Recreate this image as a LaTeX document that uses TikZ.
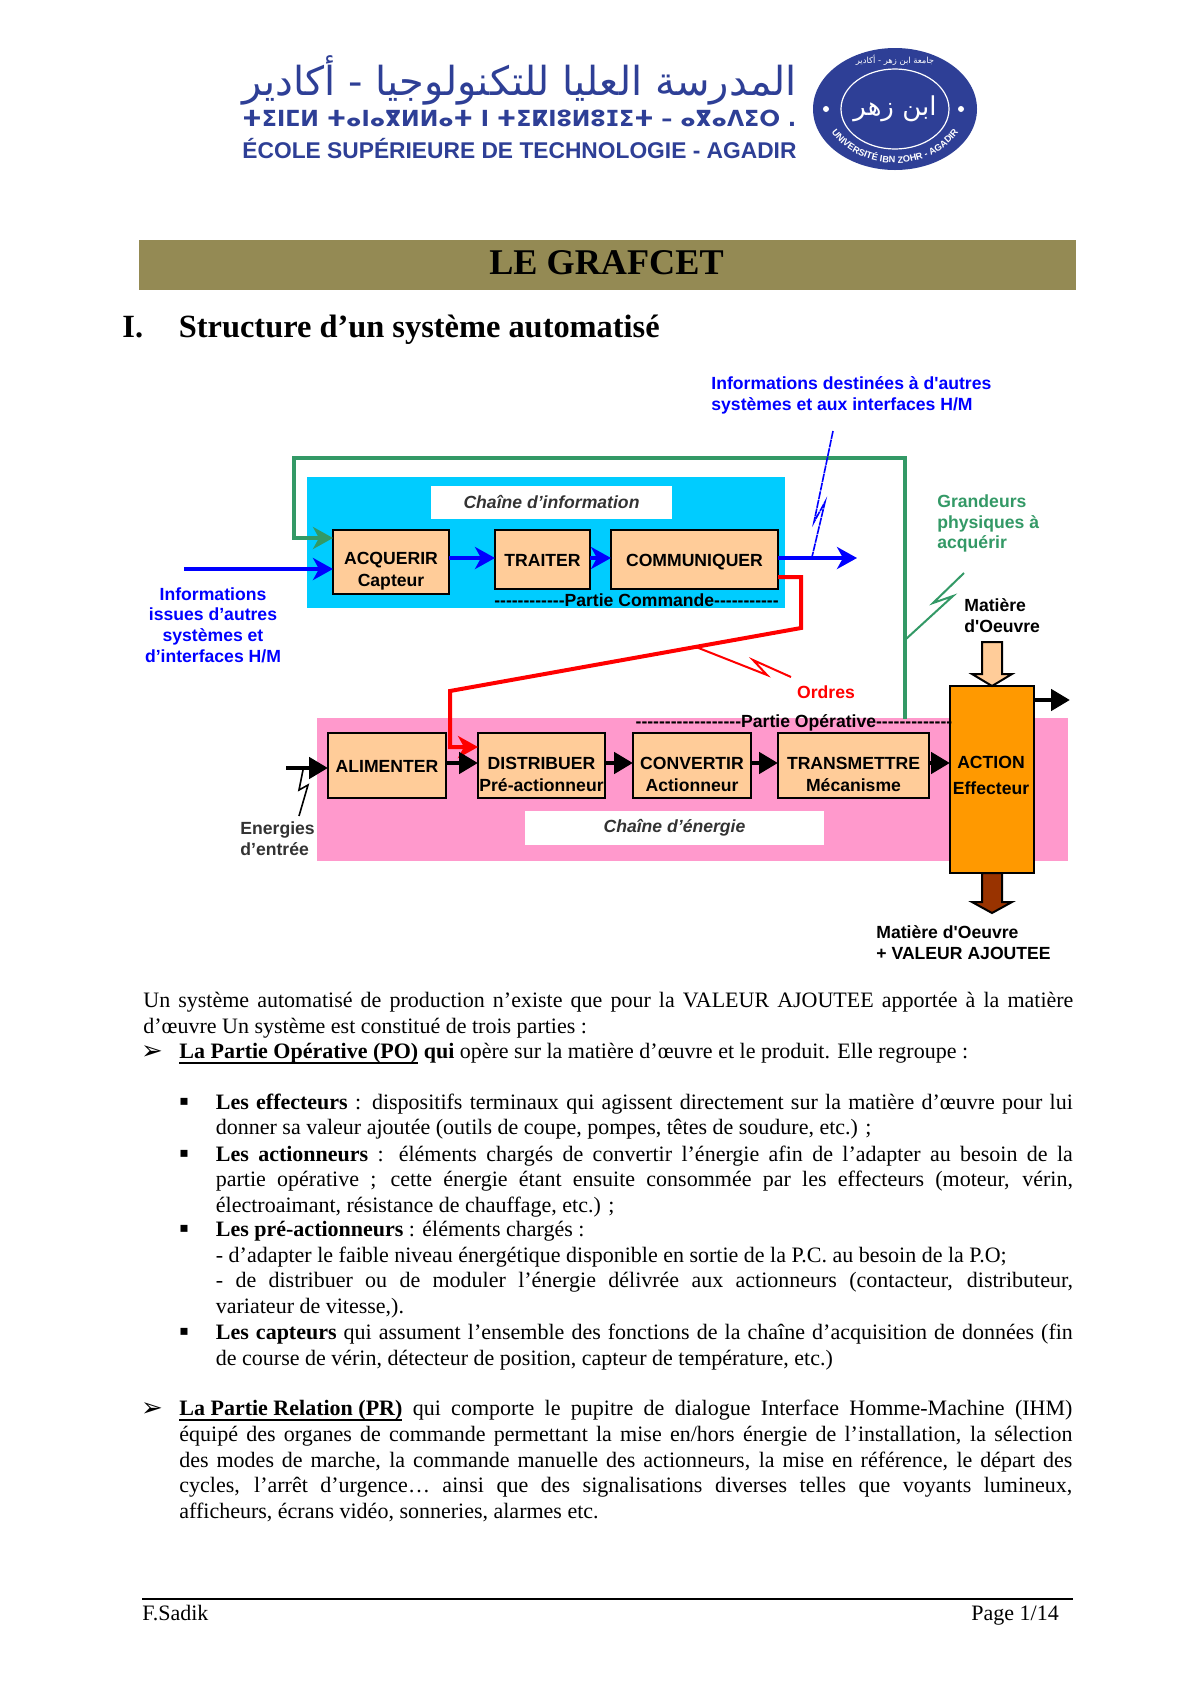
\documentclass[tikz,border=0pt]{standalone}
\usepackage{fontspec}
\usepackage{graphicx}
\usetikzlibrary{positioning,arrows.meta,shapes.geometric,decorations.text}
\setmainfont{Liberation Serif}
\newfontfamily\labelfont{Liberation Sans}
\newfontfamily\arabicfont[Script=Arabic]{DejaVu Sans}
\newfontfamily\tifafont{DejaVu Sans}
\newfontfamily\symbfont{DejaVu Sans}
\TeXXeTstate=1
\tolerance=9999
\hyphenpenalty=10000
\newcommand{\souligne}[1]{\leavevmode\setbox0=\hbox{#1}\rlap{\rule[-2.6pt]{\wd0}{1.1pt}}\box0\relax}
\definecolor{logoblue}{HTML}{2E3F96}
\definecolor{bandeau}{HTML}{948A54}
\definecolor{ciel}{HTML}{00CCFF}
\definecolor{rose}{HTML}{FF99CC}
\definecolor{peche}{HTML}{FFCC99}
\definecolor{orange}{HTML}{FF9900}
\definecolor{brun}{HTML}{993300}
\definecolor{vert}{HTML}{339966}
\tikzset{
  blocfont/.style={font=\labelfont\bfseries\fontsize{8.8}{11}\selectfont},
  bloc/.style={draw,line width=1pt,fill=peche,inner sep=0pt,outer sep=0pt,blocfont,minimum height=29.5pt,text height=6.5pt,text depth=0pt},
  sousbloc/.style={label={[blocfont,align=center,inner sep=0pt,yshift=-4.5pt]center:#1}},
  zone/.style={inner sep=0pt,outer sep=0pt,anchor=north west},
  chaine/.style={fill=white,inner sep=0pt,outer sep=0pt,text=black!80,font=\labelfont\bfseries\itshape\fontsize{8.8}{11}\selectfont},
  legende/.style={inner sep=0pt,font=\labelfont\bfseries\fontsize{8.8}{10.3}\selectfont,align=left,anchor=west},
  para/.style={inner sep=0pt,anchor=north west,align=justify,font=\fontsize{11}{12.78}\selectfont},
  fleche/.style={line width=2pt,-{Stealth[length=10pt,width=11pt,inset=3pt]}},
  flechenoire/.style={line width=2.4pt,-{Triangle[length=9.5pt,width=10.5pt]}},
  eclair/.style={line width=0.8pt}
}
\begin{document}
\begin{tikzpicture}[x=0.5pt,y=-0.5pt,>=latex]
        \useasboundingbox[fill=white] (0,0) rectangle (1200,1698);

        \node[inner sep=0pt,text=logoblue] (ecolear) at (519.5,80) {\resizebox{277pt}{!}{\arabicfont\beginR المدرسة العليا للتكنولوجيا - أكادير\endR}};
        \node[inner sep=0pt,text=logoblue] (ecoletz) at (519.5,118) {\resizebox{277pt}{!}{\tifafont\bfseries ⵜⵉⵏⵎⵍ ⵜⴰⵏⴰⴳⵍⵍⴰⵜ ⵏ ⵜⵉⴽⵏⵓⵍⵓⵊⵉⵜ – ⴰⴳⴰⴷⵉⵔ .}};
        \node[inner sep=0pt,text=logoblue,font=\labelfont\bfseries] (ecolefr) at (519.5,149) {\resizebox{277pt}{!}{ÉCOLE SUPÉRIEURE DE TECHNOLOGIE - AGADIR}};
        \node[ellipse,fill=logoblue,inner sep=0pt,minimum width=82pt,minimum height=61pt] (sceau) at (895,109) {};
        \node[ellipse,draw=white,line width=0.6pt,inner sep=0pt,minimum width=54pt,minimum height=40pt] (bague) at (sceau) {};
        \node[inner sep=0pt,text=white,font=\arabicfont\fontsize{13}{13}\selectfont] (zohr) at (sceau) {\beginR ابن زهر\endR};
        \node[inner sep=0pt,text=white,font=\arabicfont\fontsize{4.2}{4.2}\selectfont] (sceauar) at (895,60) {\beginR جامعة ابن زهر - أكادير\endR};
        \node[circle,fill=white,inner sep=0pt,minimum size=3pt] (pointg) at (826,109) {};
        \node[circle,fill=white,inner sep=0pt,minimum size=3pt] (pointd) at (961,109) {};
        \path[decorate,decoration={text along path,text color=white,text align=center,text={|\labelfont\bfseries\fontsize{4.6}{5}\selectfont|UNIVERSITÉ IBN ZOHR - AGADIR}}] (832,133) .. controls (862,173) and (928,173) .. (958,133);

        \node[zone,fill=bandeau,minimum width=468.5pt,minimum height=25pt] (bandeau) at (139,239.5) {};
        \node[inner sep=0pt,font=\bfseries\fontsize{18.1}{20}\selectfont] (titre) at (606.5,263) {LE GRAFCET};
        \node[inner sep=0pt,anchor=base west,font=\bfseries\fontsize{16.2}{20}\selectfont] (numero) at (122,337) {I.};
        \node[inner sep=0pt,anchor=base west,font=\bfseries\fontsize{16.2}{20}\selectfont] (section) at (178.5,337) {Structure d’un système automatisé};

        \node[zone,fill=ciel,minimum width=239pt,minimum height=65.5pt] (commande) at (307,477) {};
        \node[zone,fill=rose,minimum width=375.5pt,minimum height=71.5pt] (operative) at (317,718) {};
        \node[zone,chaine,minimum width=120.5pt,minimum height=16.5pt,anchor=center] (chaineinfo) at (551.5,502.5) {Chaîne d’information};
        \node[zone,chaine,minimum width=149.5pt,minimum height=17pt,anchor=center] (chaineener) at (674.5,828) {Chaîne d’énergie};

        \node[bloc,anchor=north west,minimum width=58pt,minimum height=32pt,sousbloc={ACQUERIR\\Capteur}] (acquerir) at (333,530) {};
        \node[bloc,anchor=north west,minimum width=47.5pt,right=23pt of acquerir.north east,anchor=north west] (traiter) {TRAITER};
        \node[bloc,anchor=north west,minimum width=83.5pt,right=10.5pt of traiter.north east,anchor=north west] (communiquer) {COMMUNIQUER};

        \node[bloc,anchor=north west,minimum width=59pt,minimum height=32.5pt] (alimenter) at (328,733) {ALIMENTER};
        \node[bloc,minimum width=63.5pt,minimum height=32.5pt,right=16pt of alimenter.north east,anchor=north west,sousbloc={DISTRIBUER\\Pré-actionneur}] (distribuer) {};
        \node[bloc,minimum width=59pt,minimum height=32.5pt,right=14pt of distribuer.north east,anchor=north west,sousbloc={CONVERTIR\\Actionneur}] (convertir) {};
        \node[bloc,minimum width=75.5pt,minimum height=32.5pt,right=13.5pt of convertir.north east,anchor=north west,sousbloc={TRANSMETTRE\\Mécanisme}] (transmettre) {};
        \node[bloc,fill=orange,anchor=north west,minimum width=42pt,minimum height=93.5pt] (action) at (950,686) {};
        \node[inner sep=0pt,blocfont,align=center] (actiontexte) at (991,775) {ACTION\\[2pt]Effecteur};

        \node[inner sep=0pt,blocfont] (partiecom) at (636.5,600) {------------Partie Commande-----------};
        \node[inner sep=0pt,blocfont] (partieop) at (794,723) {------------------Partie Opérative-------------};

        \coordinate (entreeinfo) at (184,569);
        \coordinate (sortieinfo) at (857,558);
        \coordinate (departvert) at (904.5,719);
        \coordinate (coinvert) at (293.5,458);
        \coordinate (entreevert) at (293.5,538);
        \draw[line width=2pt,vert,-{Stealth[length=10pt,width=11pt,inset=3pt]}] (departvert) |- (coinvert) -- (entreevert) -- (acquerir.west |- entreevert);
        \draw[fleche,blue] (entreeinfo) -- (acquerir.west |- entreeinfo);
        \draw[fleche,blue] (acquerir.east |- sortieinfo) -- (traiter.west |- sortieinfo);
        \draw[fleche,blue] (traiter.east |- sortieinfo) -- (communiquer.west |- sortieinfo);
        \draw[fleche,blue] (communiquer.east |- sortieinfo) -- (sortieinfo);

        \coordinate (rouge1) at (801,577);
        \coordinate (rouge2) at (801,628);
        \coordinate (rouge3) at (450,691);
        \coordinate (rouge4) at (450,747);
        \draw[fleche,red,line join=miter] (communiquer.east |- rouge1) -- (rouge1) -- (rouge2) -- (rouge3) -- (rouge4) -- (distribuer.west |- rouge4);

        \coordinate (niveau) at (0,763);
        \coordinate (entreeener) at (286,768);
        \coordinate (sortieaction) at (1070,700);
        \draw[flechenoire] (entreeener) -- (alimenter.west |- entreeener);
        \draw[flechenoire] (alimenter.east |- niveau) -- (distribuer.west |- niveau);
        \draw[flechenoire] (distribuer.east |- niveau) -- (convertir.west |- niveau);
        \draw[flechenoire] (convertir.east |- niveau) -- (transmettre.west |- niveau);
        \draw[flechenoire] (transmettre.east |- niveau) -- (action.west |- niveau);
        \draw[flechenoire] (action.east |- sortieaction) -- (sortieaction);

        \draw[line width=1pt,fill=peche] (action.north) -- ++(20,-12) -- ++(-10,0) -- ++(0,-32) -- ++(-20,0) -- ++(0,32) -- ++(-10,0) -- cycle;
        \draw[line width=1pt,fill=brun] (action.south) ++(-10,0) -- ++(0,29) -- ++(-10,0) -- ++(20,11) -- ++(20,-11) -- ++(-10,0) -- ++(0,-29) -- cycle;

        \draw[eclair,blue,dash pattern=on 4pt off 0.4pt] (833,431) -- (814,522) -- (825,502) -- (812,557);
        \draw[line width=1pt,red] (696,647) -- (767,675) -- (753,660) -- (791,677);
        \draw[eclair,vert,line width=1pt] (906,639) -- (953,596) -- (933,603) -- (964,573);
        \draw[eclair,black] (303,770) -- (299,790) -- (308,785) -- (299,816);

        \node[legende,text=blue] (infodest) at (711,395.5) {Informations destinées à d'autres\\systèmes et aux interfaces H/M};
        \node[legende,text=vert] (grandeurs) at (937,523.5) {Grandeurs\\physiques à\\acquérir};
        \node[legende] (matiere) at (964,615.5) {Matière\\d'Oeuvre};
        \node[legende,text=blue,align=center,anchor=center] (infoissues) at (213,625) {Informations\\issues d’autres\\systèmes et\\d’interfaces H/M};
        \node[legende,text=red,anchor=center] (ordres) at (826,692) {Ordres};
        \node[legende,text=black!80] (energies) at (240,838.5) {Energies\\d’entrée};
        \node[legende] (valeur) at (876,942.5) {Matière d'Oeuvre\\+ VALEUR AJOUTEE};

        \node[para,text width=465pt] (intro) at (143,992) {Un système automatisé de production n’existe que pour la VALEUR AJOUTEE apportée à la matière\linebreak d’œuvre Un système est constitué de trois parties :};
        \node[para,text width=446.5pt] (po) at (179,1043) {\souligne{\textbf{La Partie Opérative (PO)}} \textbf{qui} opère sur la matière d’œuvre et le produit. Elle regroupe :};
        \node[para,text width=428.5pt] (effecteurs) at (215.5,1093.5) {\textbf{Les effecteurs} : dispositifs terminaux qui agissent directement sur la matière d’œuvre pour lui\linebreak donner sa valeur ajoutée (outils de coupe, pompes, têtes de soudure, etc.) ;};
        \node[para,text width=428.5pt] (actionneurs) at (215.5,1145.5) {\textbf{Les actionneurs} : éléments chargés de convertir l’énergie afin de l’adapter au besoin de la\linebreak partie opérative ; cette énergie étant ensuite consommée par les effecteurs (moteur, vérin,\linebreak électroaimant, résistance de chauffage, etc.) ;};
        \node[para,text width=428.5pt] (preactionneurs) at (215.5,1221) {\textbf{Les pré-actionneurs} : éléments chargés :\\- d'adapter le faible niveau énergétique disponible en sortie de la P.C. au besoin de la P.O;\\- de distribuer ou de moduler l’énergie délivrée aux actionneurs (contacteur, distributeur,\linebreak variateur de vitesse,).};
        \node[para,text width=428.5pt] (capteurs) at (215.5,1324) {\textbf{Les capteurs} qui assument l’ensemble des fonctions de la chaîne d’acquisition de données (fin\linebreak de course de vérin, détecteur de position, capteur de température, etc.)};
        \node[para,text width=446.5pt] (pr) at (179,1400) {\souligne{\textbf{La Partie Relation (PR)}} qui comporte le pupitre de dialogue Interface Homme-Machine (IHM)\linebreak équipé des organes de commande permettant la mise en/hors énergie de l’installation, la sélection\linebreak des modes de marche, la commande manuelle des actionneurs, la mise en référence, le départ des\linebreak cycles, l’arrêt d’urgence… ainsi que des signalisations diverses telles que voyants lumineux,\linebreak afficheurs, écrans vidéo, sonneries, alarmes etc.};

        \foreach \py in {1053,1410}
            \node[inner sep=0pt,font=\symbfont\fontsize{13}{13}\selectfont] (fleche\py) at (152,\py) {➢};
        \foreach \py in {1102,1154,1229,1332}
            \node[inner sep=0pt,font=\symbfont\fontsize{7}{7}\selectfont] (puce\py) at (184,\py) {▪};

        \coordinate (piedg) at (142,1599);
        \coordinate (piedd) at (1073,1599);
        \draw[line width=1pt] (piedg) -- (piedd);
        \node[inner sep=0pt,anchor=base west,font=\fontsize{11}{13}\selectfont] (auteur) at (142,1620) {F.Sadik};
        \node[inner sep=0pt,anchor=base west,font=\fontsize{11}{13}\selectfont] (page) at (971,1620) {Page 1/14};
\end{tikzpicture}
\end{document}
